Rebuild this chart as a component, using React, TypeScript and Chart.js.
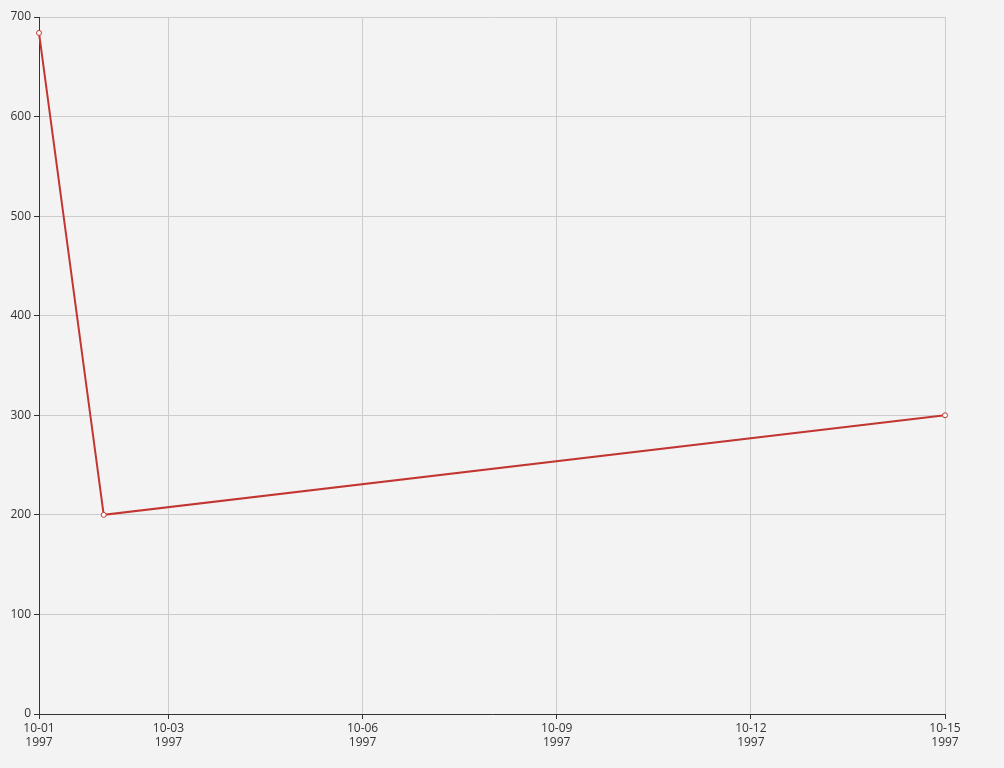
import React, { useEffect, useRef } from "react";
import { Chart, registerables } from "chart.js";

Chart.register(...registerables);

const pointDates = ["1997-10-01", "1997-10-02", "1997-10-15"];
const pointValues = [684, 200, 300];
const xTickDates = ["1997-10-01", "1997-10-03", "1997-10-06", "1997-10-09", "1997-10-12", "1997-10-15"];
const yTicks = [0, 100, 200, 300, 400, 500, 600, 700];

const DAY = 86400000;
const toDay = (s: string) => Date.parse(s + "T00:00:00Z") / DAY;
const fmt = (d: number) => {
  const dt = new Date(Math.round(d) * DAY);
  const mm = String(dt.getUTCMonth() + 1).padStart(2, "0");
  const dd = String(dt.getUTCDate()).padStart(2, "0");
  return [`${mm}-${dd}`, String(dt.getUTCFullYear())];
};

export default function App() {
  const ref = useRef<HTMLCanvasElement>(null);
  useEffect(() => {
    document.body.style.margin = "0";
    document.body.style.background = "#f3f3f3";
    const font = { family: "'Open Sans', 'Noto Sans', sans-serif", size: 12 };
    const chart = new Chart(ref.current!, {
      type: "line",
      data: {
        datasets: [
          {
            data: pointDates.map((d, i) => ({ x: toDay(d), y: pointValues[i] })),
            borderColor: "#c23531",
            borderWidth: 2,
            pointRadius: 2.5,
            pointBorderWidth: 1,
            pointBackgroundColor: "#ffffff",
            pointBorderColor: "#c23531",
            tension: 0,
            clip: false as any,
          },
        ],
      },
      options: {
        animation: false,
        responsive: false,
        layout: { padding: { top: 17, right: 59, left: 0, bottom: 0 } },
        plugins: { legend: { display: false }, tooltip: { enabled: false } },
        scales: {
          x: {
            type: "linear",
            min: toDay(xTickDates[0]),
            max: toDay(xTickDates[xTickDates.length - 1]),
            afterBuildTicks: (s: any) => {
              s.ticks = xTickDates.map((d) => ({ value: toDay(d) }));
            },
            afterFit: (s: any) => {
              s.height = 54;
            },
            grid: { color: "#cccccc", tickColor: "#333333", tickLength: 5, lineWidth: 1 },
            border: { color: "#333333", width: 1 },
            ticks: {
              autoSkip: false,
              maxRotation: 0,
              padding: 2,
              color: "#333333",
              font,
              callback: (v: any) => fmt(Number(v)),
            },
          },
          y: {
            type: "linear",
            min: yTicks[0],
            max: yTicks[yTicks.length - 1],
            afterBuildTicks: (s: any) => {
              s.ticks = yTicks.map((v) => ({ value: v }));
            },
            afterFit: (s: any) => {
              s.width = 39;
            },
            grid: { color: "#cccccc", tickColor: "#333333", tickLength: 5, lineWidth: 1 },
            border: { color: "#333333", width: 1 },
            ticks: { padding: 3, color: "#333333", font },
          },
        },
      },
    });
    return () => chart.destroy();
  }, []);
  return (
    <div style={{ width: 1004, height: 768, background: "#f3f3f3" }}>
      <canvas ref={ref} width={1004} height={768} style={{ display: "block" }} />
    </div>
  );
}
